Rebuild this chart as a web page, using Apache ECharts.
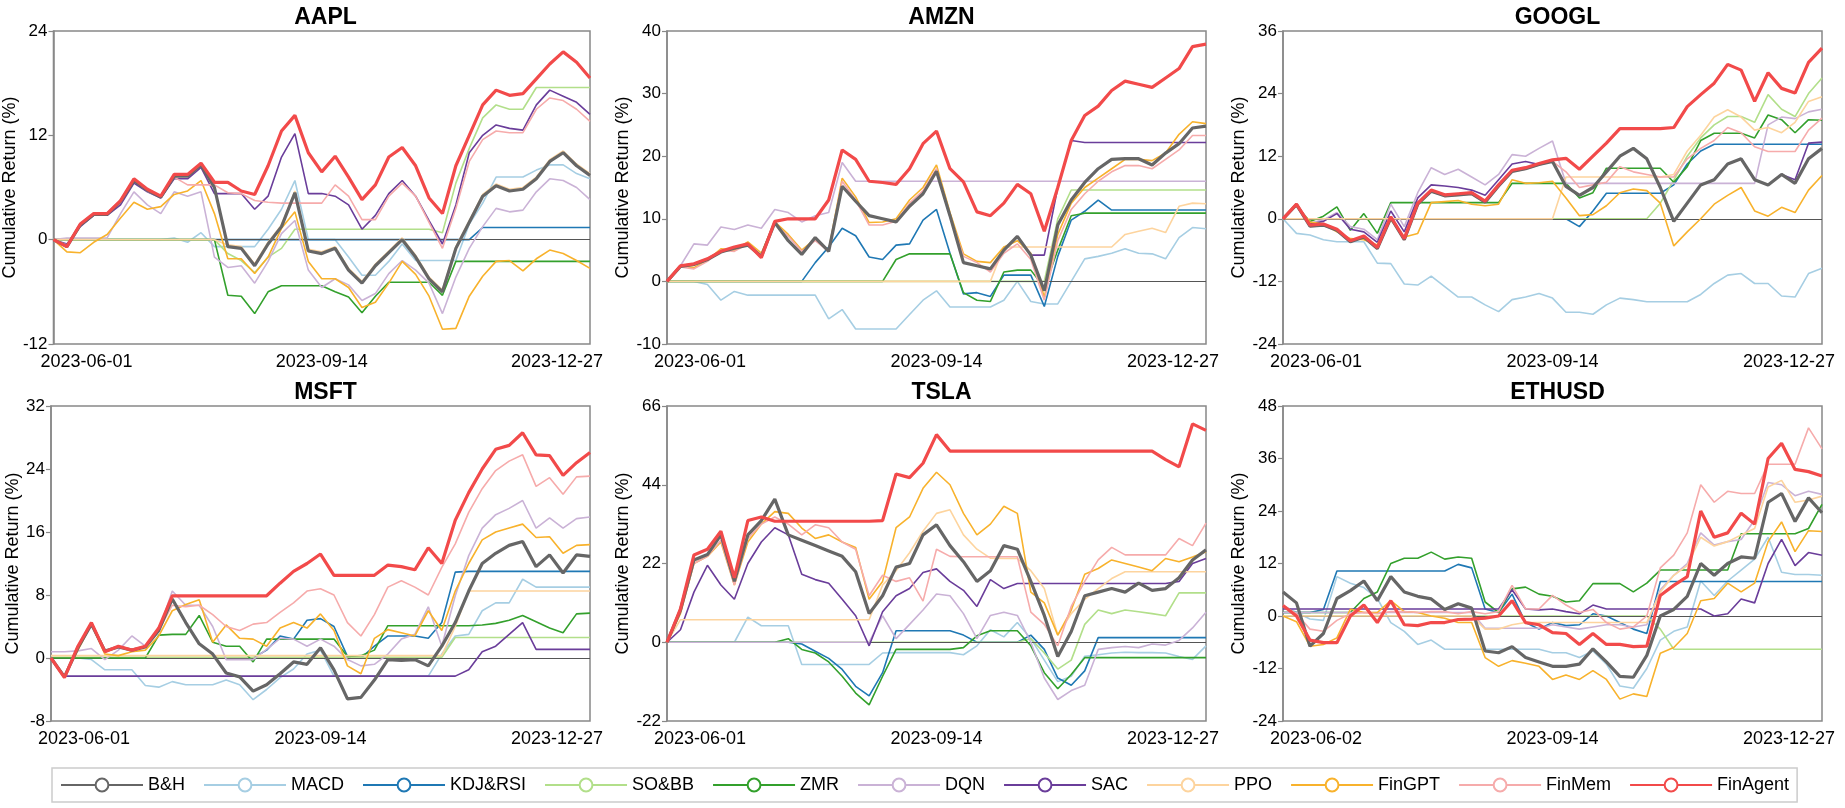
<!DOCTYPE html>
<html><head><meta charset="utf-8">
<script src="https://cdn.jsdelivr.net/npm/echarts@6/dist/echarts.min.js"></script>
<style>html,body{margin:0;padding:0;background:#fff}#c{width:1845px;height:808px}</style>
</head><body><div id="c"></div>
<script>
const seriesNames = ['B&H','MACD','KDJ&RSI','SO&BB','ZMR','DQN','SAC','PPO','FinGPT','FinMem','FinAgent'];
const xLabelsStock = ['2023-06-01','2023-09-14','2023-12-27'];
const xLabelsEth = ['2023-06-02','2023-09-14','2023-12-27'];

// ---------- AAPL ----------
const aapl_bh = [0,-0.8,1.7,2.9,2.9,4.4,6.8,5.7,4.9,7.3,7.3,8.6,6.0,-0.8,-1,-3.0,-0.5,1.5,5.4,-1.3,-1.6,-1,-3.5,-5,-3,-1.5,0,-2,-4.5,-6,-1,2,5,6.2,5.6,5.8,7,9,10,8.5,7.4];
const aapl_macd = [0,0,0,0,0,0,0,0,0,0.2,-0.3,0.8,-0.8,-0.8,-0.8,-0.8,1.2,3.5,6.8,0,0,0,-2,-4.1,-4.1,-2.5,-0.5,-2.4,-2.4,-2.4,-2.4,1.8,4.2,7.2,7.2,7.2,8,8.6,8.6,7.6,7];
const aapl_kdj = [0,0,0,0,0,0,0,0,0,0,0,0,0,0,0,0,0,0,0,0,0,0,0,0,0,0,0,0,0,0,0,0,1.4,1.4,1.4,1.4,1.4,1.4,1.4,1.4,1.4];
const aapl_sobb = [0,0,0,0,0,0,0,0,0,0,0,0,0,-1.6,-2.4,-3.8,-2,-1,1.2,1.2,1.2,1.2,1.2,1.2,1.2,1.2,1.2,1.2,1.2,0.8,6.5,10.5,14,15.5,15,15,17.5,17.5,17.5,17.5,17.5];
const aapl_zmr = [0,0,0,0,0,0,0,0,0,0,0,0,0,-6.4,-6.5,-8.5,-6,-5.3,-5.3,-5.3,-5.3,-6,-6.6,-8.4,-6.5,-4.9,-4.9,-4.9,-4.9,-6.4,-2.5,-2.5,-2.5,-2.5,-2.5,-2.5,-2.5,-2.5,-2.5,-2.5,-2.5];
const aapl_dqn = [0,0.2,0.2,0.2,0.2,3,5.5,4,3,5.5,5,5.5,-2,-3.2,-3,-5,-2.5,0.7,2.2,-3.5,-5.5,-4.5,-5.2,-7,-6.2,-3.9,-2.4,-3.5,-5,-8.5,-4.3,-1,1.5,3.6,3.2,3.4,5.5,7,6.8,6,4.6];
const aapl_sac = [0,-0.5,1.5,2.8,2.8,4,6.5,5.5,4.8,7,7,8.3,5.3,5.3,5.3,3.5,5,9.5,12.2,5.3,5.3,5,4,1.2,2.8,5.3,6.8,5,2.2,-0.5,4,10,12,13.2,12.8,12.6,15.5,17.2,16.5,15.8,14.4];
const aapl_ppo = [0,0,0,0,0,0,0,0,0,0,0,0,0,-0.6,-0.8,-2.8,-0.3,1.7,5.6,-1.1,-1.4,-0.8,-3.3,-4.8,-2.8,-1.3,0.2,-1.8,-4.3,-5.8,-0.8,2.2,5.2,6.4,5.8,6,7.2,9.2,10.2,8.7,7.6];
const aapl_fingpt = [0,-1.4,-1.5,-0.3,0.6,2.5,4.3,3.5,3.8,5.2,5.6,6.8,3,-2.2,-2.2,-3.9,-2,1.3,3.2,-2.5,-4.5,-4.5,-5.5,-7.8,-7.2,-5,-2.5,-4,-6.5,-10.3,-10.2,-6.5,-4.2,-2.5,-2.4,-3.6,-2.2,-1.2,-1.6,-2.4,-3.3];
const aapl_finmem = [0,-0.6,1.6,2.9,3,4.3,6.8,5.6,4.9,7.2,6.3,6.3,6.3,5.4,5.3,4.5,4.3,4.2,4.2,4.2,4.2,6.3,5,2.3,2.3,5,6.5,5,2,-1,3.6,9,11.5,12.5,12.3,12.3,15,16.3,16,15,13.6];
const aapl_finagent = [0,-0.8,1.8,3,3,4.5,7,5.8,5,7.5,7.5,8.8,6.6,6.6,5.6,5.2,8.5,12.5,14.3,10,7.8,9.6,7.2,4.6,6.3,9.5,10.6,8.5,4.8,3,8.5,12,15.5,17.2,16.6,16.8,18.5,20.2,21.6,20.4,18.6];

// ---------- AMZN ----------
const amzn_bh = [0,2.4,2.7,3.5,4.7,5.3,5.8,4,9.4,6.5,4.3,7,4.8,15.2,12.8,10.5,10,9.5,12,14,17.6,10.5,3,2.5,2,5,7.2,4.2,-1.5,9,13,15.8,18,19.5,19.6,19.6,18.6,20.5,22,24.5,24.8];
const amzn_macd = [0,0,0,-0.5,-3,-1.6,-2.2,-2.2,-2.2,-2.2,-2.2,-2.2,-6,-4.5,-7.6,-7.6,-7.6,-7.6,-5.3,-3,-1.5,-4.1,-4.1,-4.1,-4.1,-3,0,-3.2,-3.6,-3.6,0,3.6,4,4.5,5.2,4.5,4.4,3.6,7,8.6,8.4];
const amzn_kdj = [0,0,0,0,0,0,0,0,0,0,0,3,5.5,8.5,7.3,3.9,3.5,5.8,6,9.8,11.5,4.5,-2,-1.8,-2.4,1,1,1,-4,4,9.8,11.2,13,11.4,11.4,11.4,11.4,11.4,11.4,11.4,11.4];
const amzn_sobb = [0,0,0,0,0,0,0,0,0,0,0,0,0,0,0,0,0,0,0,0,0,0,0,0,0,0,0,0,0,10,14.6,14.6,14.6,14.6,14.6,14.6,14.6,14.6,14.6,14.6,14.6];
const amzn_zmr = [0,0,0,0,0,0,0,0,0,0,0,0,0,0,0,0,0,3.5,4.4,4.4,4.4,4.4,-1.8,-3,-3.2,1.5,1.8,1.8,-1,5,10.5,10.9,10.9,10.9,10.9,10.9,10.9,10.9,10.9,10.9,10.9];
const amzn_dqn = [0,2.5,6,5.8,8.7,8.3,9,8.5,11.5,11,9.5,10.5,11,19,16,16,16,16,16,16,16,16,16,16,16,16,16,16,16,16,16,16,16,16,16,16,16,16,16,16,16];
const amzn_sac = [0,2.4,2.7,3.5,4.7,5.3,5.8,4,9.4,6.5,4.3,7,4.8,15.2,12.8,10.5,10,9.5,12,14,17.6,10.5,3,2.5,2,5,7.2,4.2,4.2,15,22.5,22.2,22.2,22.2,22.2,22.2,22.2,22.2,22.2,22.2,22.2];
const amzn_ppo = [0,0,0,0,0,0,0,0,0,0,0,0,0,0,0,0,0,0,0,0,0,0,0,0,0,5.5,5.5,5.5,5.5,5.5,5.5,5.5,5.5,5.5,7.5,8,8.5,7.8,12,12.5,12.4];
const amzn_fingpt = [0,2.5,2.2,3.4,5.2,5,6.3,4.5,9.5,7.5,5,6.8,5,16.5,13.5,9.4,9.5,10,13,15,18.6,11,4.4,3.2,3,5.5,6.5,4.5,-2.5,7.5,12.5,15,16.5,18,19.5,19.5,19.3,20.5,23.5,25.5,25.2];
const amzn_finmem = [0,2.3,2,3.2,5,4.8,6,4.2,9.2,7.2,4.8,6.5,4.8,16,13,9,9,9.6,12.5,14.5,18,10.5,4,3,1.5,4.5,6,3.5,-3,6.5,11.5,14,16,17.5,18.5,18.5,18,19.5,21,23.3,23.3];
const amzn_finagent = [0,2.5,2.8,3.6,4.8,5.5,6,3.8,9.6,10,10,10,13,21,19.5,16,15.8,15.5,18,22,24,18,15.9,11.1,10.5,12.5,15.5,14,8,15,22.5,26.5,28,30.5,32,31.5,31,32.5,34,37.5,37.9];

// ---------- GOOGL ----------
const googl_bh = [0,2.7,-1.4,-1.2,-2.2,-4.4,-3.5,-5.7,0.2,-4,2.8,5.3,4.4,4.6,4.8,3.2,6.3,9.1,9.6,10.4,11,6.2,4.5,6,9,12,13.5,11.5,6,-0.5,3,6.5,7.5,10.5,11.5,7.5,6.5,8.5,6.8,11.5,13.5];
const googl_macd = [0,-2.8,-3.1,-4,-4.4,-4.4,-4.4,-8.5,-8.6,-12.5,-12.7,-11,-13,-15,-15,-16.5,-17.8,-15.5,-15,-14.3,-15.2,-17.9,-17.9,-18.3,-16.5,-15.2,-15.5,-15.9,-15.9,-15.9,-15.9,-14.5,-12.4,-10.8,-10.5,-12.4,-12.4,-14.8,-15,-10.5,-9.5];
const googl_kdj = [0,0,0,0,0,0,0,0,0,0,0,0,0,0,0,0,0,0,0,0,0,0,-1.5,1.5,4.9,4.9,4.9,4.9,4.9,6.5,10.5,13,14.3,14.3,14.3,14.3,14.3,14.3,14.3,14.3,14.3];
const googl_sobb = [0,0,0,0,0,0,0,0,0,0,0,0,0,0,0,0,0,0,0,0,0,0,0,0,0,0,0,0,3,7.4,12,15.5,18,19.6,19.6,18.5,23.8,21,19.6,24,27];
const googl_zmr = [0,2.5,-0.5,0.5,2.3,-2.2,1,-2.8,3.1,3.1,3.1,3.1,3.1,3.1,3.1,3.1,3.1,6.8,6.8,6.8,6.8,6.8,4,5,9.7,9.7,9.7,9.7,9.7,7,10,15,16.4,16.4,16.4,15.5,19.9,19,16.5,19,18.9];
const googl_dqn = [0,2.8,-0.8,-0.2,1.2,-1.5,-2,-4,2.8,-1.5,5,9.8,8.5,9.5,8,6.5,8.5,12.3,12,13.5,14.9,6.8,6.8,6.8,6.8,6.8,6.8,6.8,6.8,6.8,6.8,6.8,6.8,6.8,6.8,6.8,18,19.5,19.2,20.5,21];
const googl_sac = [0,2.8,-1,-0.5,1,-2,-2.5,-4.5,1.5,-2.5,4,6.5,6.3,6,5.5,4.5,7.5,10.5,11,10.4,11,6.2,4.5,6,9,12,13.5,11.5,6,-0.5,3,6.5,7.5,10.5,11.5,7.5,6.5,8.5,7.5,14.5,14.7];
const googl_ppo = [0,0,0,0,0,0,0,0,0,0,0,0,0,0,0,0,0,0,0,0,0,8,8,8,8,8,8,8,8,8.5,13,16,19.5,20.9,19.5,17,17.5,16.5,18.5,22.5,23.4];
const googl_fingpt = [0,2.5,-0.6,-1,-2.5,-3.8,-4,-5,-0.2,-3.5,-2.8,3.1,3.3,3.5,2.8,2.5,2.8,7.5,6.8,6.9,7.2,4,0.6,0.8,2.5,5,5.7,5.4,3,-5.2,-2.5,0,2.8,4.5,6,1.5,0.5,2.2,1.2,5.5,8.3];
const googl_finmem = [0,2.5,-1.5,-1.3,-2.3,-4.5,-3.6,-5.8,0.1,-4.1,2.7,5.2,4.3,4.5,4.7,3.1,6.2,9,9.5,10.3,11,9,6,6.5,7,10,9,8.5,8,8,11.5,13.5,15,17.5,16.5,13.8,12.9,12.9,12.9,17,19.3];
const googl_finagent = [0,2.8,-1.2,-1,-2,-4.2,-3.3,-5.5,0.4,-3.8,3,5.5,4.6,4.8,5,3.4,6.5,9.3,9.8,10.6,11.3,11.6,9.5,12,14.5,17.3,17.3,17.3,17.3,17.5,21.5,23.8,26,29.6,28.5,22.5,28,25,24.1,30,32.7];

// ---------- MSFT ----------
const msft_bh = [0,-2.4,1.3,4.3,0.9,1.4,1,1.4,3.5,7.5,4.5,1.8,0.5,-1.9,-2.4,-4.2,-3.4,-2,-0.5,-0.8,1.3,-1.5,-5.2,-5,-2.8,-0.2,-0.3,-0.2,-1,1.5,4.5,8.5,12,13.3,14.3,14.8,11.6,13.1,10.8,13.1,12.9];
const msft_macd = [0,0,0,-0.2,-1.5,-1.5,-1.5,-3.5,-3.7,-3,-3.4,-3.4,-3.4,-2.8,-3.4,-5.3,-4,-2.5,-1.4,0.5,1,-2.3,-2.3,-2.3,-2.3,-2.3,-2.3,-2.3,-2.3,0.5,2.8,3,6,7,7,10,9,9,9,9,9];
const msft_kdj = [0,0,0,0,0,0,0,0,0,0,0,0,0,0,0,0,1,2.8,2.4,4.8,5,4,0.2,0,1.5,2.8,2.8,2.8,2.5,4.5,10.9,11,11,11,11,11,11,11,11,11,11];
const msft_sobb = [0.1,0.1,0.1,0.1,0.1,0.1,0.1,0.1,0.1,0.1,0.1,0.1,0.1,0.1,0.1,0.1,0.1,0.1,0.1,0.1,0.1,0.1,0.1,0.1,0.1,0.1,0.1,0.1,0.1,0.1,2.6,2.6,2.6,2.6,2.6,2.6,2.6,2.6,2.6,2.6,2.6];
const msft_zmr = [0,0,0,0,0,0,0,0,2.9,3,3,5.4,2,1.5,1.5,-0.5,2.4,2.4,2.4,2.4,2.4,2.4,0.2,0.3,1,4.1,4.1,4.1,4.1,4.1,4.1,4.1,4.2,4.4,4.8,5.4,4.6,3.8,3.2,5.6,5.7];
const msft_dqn = [0.8,0.8,0.9,1.2,-0.2,1,2.8,1.5,3.5,8.5,6.7,6.7,4,-0.2,-0.2,-0.2,1.1,2.5,2.4,1.5,2.4,1.5,-0.2,-1,-0.8,0.5,2.4,3,6.5,1.5,7.9,13,16.5,18.2,19,20,16.5,17.8,16.5,17.7,17.9];
const msft_sac = [0,-2.3,-2.3,-2.3,-2.3,-2.3,-2.3,-2.3,-2.3,-2.3,-2.3,-2.3,-2.3,-2.3,-2.3,-2.3,-2.3,-2.3,-2.3,-2.3,-2.3,-2.3,-2.3,-2.3,-2.3,-2.3,-2.3,-2.3,-2.3,-2.3,-2.3,-1.5,0.8,1.5,3,4.5,1.1,1.1,1.1,1.1,1.1];
const msft_ppo = [0.3,0.3,0.3,0.3,0.3,0.3,0.3,0.3,0.3,0.3,0.3,0.3,0.3,0.3,0.3,0.3,0.3,0.3,0.3,0.3,0.3,0.3,0.3,0.3,0.3,0.3,0.3,0.3,0.3,0.3,4,8.5,8.5,8.5,8.5,8.5,8.5,8.5,8.5,8.5,8.5];
const msft_fingpt = [0,-2.3,1,4.3,0.5,0.3,0.8,1,2.8,6,6.8,7.4,2,4.2,2.5,2.4,1.5,3.8,4.5,3.8,5.6,3.5,-1,-2,2.5,3.6,3.2,2.8,6,3.5,8.5,12,15,16,16.5,17,15.3,15.4,13.3,14.3,14.4];
const msft_finmem = [0,-2.5,1.4,4.2,0.8,1.4,1,1.4,3.5,6.7,6.5,6.7,5.5,4,3.5,4.3,4.5,5.8,7,8.5,8.8,8,4.5,2.8,5.5,9,9.8,9,8,11.5,14.5,18.5,21.5,23.8,25,25.8,21.8,22.9,20.8,23,23.1];
const msft_finagent = [0,-2.5,1.5,4.5,0.8,1.5,1,1.5,3.8,7.9,7.9,7.9,7.9,7.9,7.9,7.9,7.9,9.5,11,12,13.2,10.5,10.5,10.5,10.5,11.8,11.6,11.2,14,12,17.5,21,24,26.5,27,28.6,25.8,25.7,23.2,24.8,26.1];

// ---------- TSLA ----------
const tsla_bh = [0,9,23,24.5,30,17,30,34,40,30,28.5,27,25.5,24,19.7,8,13,21,22,30,32.8,27,22.5,17,20,27,26,17,7.5,-4,3,13,14,15,14,16.5,14.5,15,18,23,25.8];
const tsla_macd = [0,0,0,0,0,0,7,4.6,4.6,4.6,-6.2,-6.2,-6.2,-6.2,-6.2,-6.2,-3,-2.9,-2.9,-2.9,-2.9,-2.9,-3.5,-1,3.5,1.5,5.5,1,-5,-11,-9.5,-3.9,-3.5,-3,-2.8,-2.9,-2.9,-3,-4,-4.8,-1];
const tsla_kdj = [0,0,0,0,0,0,0,0,0,0,-0.5,-2.5,-4.5,-7.6,-12.3,-15,-8.5,3.2,3.2,3.2,3.2,3.2,2,0,0,0,0,2,-2,-10,-12,-8,1.3,1.3,1.3,1.3,1.3,1.3,1.3,1.3,1.3];
const tsla_sobb = [0,0,0,0,0,0,0,0,0,0,0,0,0,0,0,0,0,0,0,0,0,0,0,0,0,0,0,1,-3,-7.5,-5,5,9,8,9,8.5,8,7.4,13.8,13.8,13.8];
const tsla_zmr = [0,0,0,0,0,0,0,0,0,1,-2,-3,-5.5,-9.5,-14.2,-17.5,-9.5,-2,-2,-2,-2,-2,-1.5,1.8,3.2,3.2,3.2,-1,-8.5,-13,-9,-4.3,-4.3,-4.3,-4.3,-4.3,-4.3,-4.3,-4.3,-4.3,-4.3];
const tsla_dqn = [0,0,0,0,0,0,0,0,0,0,0,0,0,0,0,0,7.4,1,5,9,13.5,13,8,1,7.5,8.4,7.5,0,-10,-16,-13.5,-12,-2,-1.5,-1.2,-1.5,-0.5,-0.8,0.5,4,8.4];
const tsla_sac = [0,3.5,14,21.5,16,12,22,28,32,30,19,17.5,16.5,12,7.4,-1,8.5,13,15,19.5,20.5,17,14.5,10,17.5,15,16.4,16.4,16.4,16.4,16.4,16.4,16.4,16.4,16.4,16.4,16.4,16.4,17,22,23.4];
const tsla_ppo = [0,6.3,6.3,6.3,6.3,6.3,6.3,6.3,6.3,6.3,6.3,6.3,6.3,6.3,6.3,6.3,16,20,25,31,36,37,30,26,23.5,23.4,23.4,20,15,2,8,12,15,17.8,19.7,19.7,19.7,19.7,19.7,19.7,19.7];
const tsla_fingpt = [0,8,22,24,28,16,28,33,36.5,36,31.9,29,30,28,26.5,12,17,32,35,43,47.5,44,36,30,33,38,36,14,11,2,9,19,20.6,23,22,21,20,23.4,22.5,23.8,25.3];
const tsla_finmem = [0,8.5,22,24,28.5,16,29,33,35,33,30,32.8,32,28,26,13,18.7,17,18,11.5,26,24,23.9,23.9,23.9,23.9,23.9,8.4,5,-1,10,17,23,26.5,24.4,24.4,24.4,24.4,29,27,33.3];
const tsla_finagent = [0,9.3,24.4,26,31,18,34,35,33.8,33.8,33.8,33.8,33.8,33.8,33.8,33.8,34,47,46,50,58,53.4,53.4,53.4,53.4,53.4,53.4,53.4,53.4,53.4,53.4,53.4,53.4,53.4,53.4,53.4,53.4,51,49,61,59.2];

// ---------- ETHUSD ----------
const eth_bh = [5.5,3,-6.9,-4,4,5.8,8,3.5,9,5.5,4.5,3.9,1.5,2.8,1.8,-8,-8.4,-7,-9.5,-10.5,-11.5,-11.5,-11,-7.5,-10.5,-13.8,-14,-9,0,1.5,4.5,12,9.3,12,13.5,13.2,26,28,21.6,27,23.6];
const eth_macd = [2.4,0.8,-0.7,-1,9,7.5,6.5,4,-1.5,-3.5,-6.5,-5.5,-7.6,-7.6,-7.6,-7.6,-7.6,-7.6,-7.6,-7.6,-8.4,-8.4,-9.5,-8,-11,-16,-16.5,-12,-5.5,-3.5,-2.5,8,4.7,8,10.5,13,18,10,9.5,9.5,9.3];
const eth_kdj = [0.8,0.8,0.8,1.5,10.3,10.3,10.3,10.3,10.3,10.3,10.3,10.3,10.3,11.8,11,1.6,0.8,5,-1.5,-3,-1.5,-2.2,-2,0.5,0,-1.5,-3,-4,7.9,7.9,7.9,7.9,7.9,7.9,7.9,7.9,7.9,7.9,7.9,7.9,7.9];
const eth_sobb = [0,0,0,0,0,0,0,0,0,0,0,0,0,0,0,0,0,0,0,0,0,0,0,0,0,0,0,0,-3,-7.6,-7.6,-7.6,-7.6,-7.6,-7.6,-7.6,-7.6,-7.6,-7.6,-7.6,-7.6];
const eth_zmr = [0.8,0.8,0.8,0.8,0.8,0.8,4,5.5,12,13.2,13.2,14.6,13,13.5,13.2,3.2,0.8,6.2,6.6,5,4.5,3.2,3.5,7.4,7.4,7.4,5.5,7.5,10.5,10.5,10.5,10.5,10.5,10.5,18.8,18.8,18.8,18.8,18.8,20,25.5];
const eth_dqn = [0.8,0.8,0.8,0.8,0.8,0.8,0.8,0.8,0.8,0.8,0.8,0.8,0.8,0.8,0.8,-2.8,-2.8,-2.8,-2.8,-2.8,-2,-2.5,-3,-2.5,-2,-2,-2.5,-2,6,9.3,12,19,16.2,17,17.5,22,30.5,30,27.5,28.5,27.8];
const eth_sac = [1.6,1.6,1.6,1.6,1.6,1.6,1.6,1.6,1.6,1.6,1.6,1.6,1.6,1.6,1.6,1.6,1.6,6,1.6,1.4,1.6,1,0.5,2.5,1.6,1.6,1.6,1.6,1.6,1.6,1.6,1.6,0,0.5,3.9,3,12,17.5,11.5,14.5,13.9];
const eth_ppo = [0,0,0,0,0,0,0,0,0,0,0,0,0,0,0,-3,-3,-2,-1.5,-1.5,-1.5,-1.5,-1.5,-1.5,-1.5,-1.5,-1.5,-1.5,5.5,9.3,11.5,18,16,17,18.5,20,29.5,31,26,26.5,27.4];
const eth_fingpt = [0,-1.3,-6.9,-6.5,-5,1.6,0.8,0.8,3.5,1,0.8,0,-0.5,-1.5,-1.5,-9.5,-11.5,-10.2,-10.8,-11.5,-14.5,-13.5,-14.5,-12.5,-14.5,-19,-17.8,-18.4,-8.5,-7.2,-4,3.5,4,7.5,5.5,7.5,17,21.5,14.7,19.5,19.3];
const eth_finmem = [2.4,0.5,-3,-3.5,-1,0.5,0.8,0.5,1,1,0.8,1,1,0.5,1,0.5,1,7,1.6,1.6,4.7,2.5,0.8,1.5,-1.5,-3,-2.5,0,11,13.9,19,30,26,28.5,28,28,34.7,34.7,34.7,43,38.2];
const eth_finagent = [2.4,0,-5.5,-6.1,-6.1,0,2.5,-1.5,3.5,-2,-2.2,-1.5,-1.5,-0.8,-0.7,-0.5,0,3.5,-1.5,-2,-3.8,-4,-6.5,-4,-6.5,-6.5,-7,-6.9,4.7,7,9,24,18,19,23.5,21,36,39.5,33.5,33,32];

// ---------- assembly ----------
const panels = [
  {title:'AAPL', labels:xLabelsStock, y:[-12,24,12], d:[aapl_bh,aapl_macd,aapl_kdj,aapl_sobb,aapl_zmr,aapl_dqn,aapl_sac,aapl_ppo,aapl_fingpt,aapl_finmem,aapl_finagent]},
  {title:'AMZN', labels:xLabelsStock, y:[-10,40,10], d:[amzn_bh,amzn_macd,amzn_kdj,amzn_sobb,amzn_zmr,amzn_dqn,amzn_sac,amzn_ppo,amzn_fingpt,amzn_finmem,amzn_finagent]},
  {title:'GOOGL', labels:xLabelsStock, y:[-24,36,12], d:[googl_bh,googl_macd,googl_kdj,googl_sobb,googl_zmr,googl_dqn,googl_sac,googl_ppo,googl_fingpt,googl_finmem,googl_finagent]},
  {title:'MSFT', labels:xLabelsStock, y:[-8,32,8], d:[msft_bh,msft_macd,msft_kdj,msft_sobb,msft_zmr,msft_dqn,msft_sac,msft_ppo,msft_fingpt,msft_finmem,msft_finagent]},
  {title:'TSLA', labels:xLabelsStock, y:[-22,66,22], d:[tsla_bh,tsla_macd,tsla_kdj,tsla_sobb,tsla_zmr,tsla_dqn,tsla_sac,tsla_ppo,tsla_fingpt,tsla_finmem,tsla_finagent]},
  {title:'ETHUSD', labels:xLabelsEth, y:[-24,48,12], d:[eth_bh,eth_macd,eth_kdj,eth_sobb,eth_zmr,eth_dqn,eth_sac,eth_ppo,eth_fingpt,eth_finmem,eth_finagent]}
];
const styles = {
  'B&H':{c:'#666666',w:3.2},
  'MACD':{c:'#a6cee3',w:1.6},
  'KDJ&RSI':{c:'#1f78b4',w:1.6},
  'SO&BB':{c:'#b2df8a',w:1.6},
  'ZMR':{c:'#33a02c',w:1.6},
  'DQN':{c:'#cab2d6',w:1.6},
  'SAC':{c:'#6a3d9a',w:1.6},
  'PPO':{c:'#fdd49e',w:1.6},
  'FinGPT':{c:'#f8b22c',w:1.6},
  'FinMem':{c:'#f6abab',w:1.6},
  'FinAgent':{c:'#f24a4a',w:3.2}
};
const drawOrder = [1,2,3,4,5,6,7,8,9,0,10];
const colLeft = [51,667,1283], rowTop = [31,406], gw = 539, gh = [313,315];
const FONT = 'Liberation Sans, Arial, Helvetica, sans-serif';

const grids=[], xAxes=[], yAxes=[], titles=[], series=[];
panels.forEach((p,k)=>{
  const col=k%3, row=Math.floor(k/3);
  grids.push({left:colLeft[col], top:rowTop[row], width:gw, height:gh[row], show:true, borderColor:'#888', borderWidth:1.5, containLabel:false});
  titles.push({text:p.title, left:colLeft[col]+gw/2, top:rowTop[row]-30, textAlign:'center',
    textStyle:{fontSize:23, fontWeight:'bold', color:'#000', fontFamily:FONT}});
  xAxes.push({type:'value', gridIndex:k, min:0, max:40, interval:20,
    axisLine:{show:false}, axisTick:{show:false}, splitLine:{show:false},
    axisLabel:{fontSize:18, color:'#000', margin:9, fontFamily:FONT,
      formatter:(v)=>{
        const idx=Math.round(v/20), t=p.labels[idx];
        if(idx===0) return '{l|'+t+'}';
        if(idx===2) return '{r|'+t+'}';
        return '{m|'+t+'}';
      },
      rich:{
        l:{fontSize:18, color:'#000', fontFamily:FONT, padding:[0,0,0,66]},
        r:{fontSize:18, color:'#000', fontFamily:FONT, padding:[0,66,0,0]},
        m:{fontSize:18, color:'#000', fontFamily:FONT}
      }}});
  yAxes.push({type:'value', gridIndex:k, min:p.y[0], max:p.y[1], interval:p.y[2],
    name:'Cumulative Return (%)', nameLocation:'middle', nameGap:24,
    nameTextStyle:{fontSize:18, color:'#000', fontFamily:FONT},
    axisLine:{show:true, lineStyle:{color:'#888', width:1.5}},
    axisTick:{show:true, length:5, lineStyle:{color:'#888', width:1.2}},
    axisLabel:{fontSize:17, color:'#000', margin:6, fontFamily:FONT},
    splitLine:{show:false}});
  drawOrder.forEach((si,j)=>{
    const name=seriesNames[si], st=styles[name];
    const s={type:'line', name:name, xAxisIndex:k, yAxisIndex:k,
      data:p.d[si].map((v,i)=>[i,v]),
      symbol:'emptyCircle', symbolSize:8, showSymbol:false,
      lineStyle:{color:st.c, width:st.w}, itemStyle:{color:st.c},
      emphasis:{disabled:true}, silent:true, animation:false, z:2+j};
    if(j===0){
      s.markLine={silent:true, symbol:['none','none'], label:{show:false}, animation:false,
        lineStyle:{color:'#555', width:1.2, type:'solid'}, data:[{yAxis:0}]};
    }
    series.push(s);
  });
});

const chart = echarts.init(document.getElementById('c'), null, {renderer:'canvas'});
chart.setOption({
  animation:false,
  textStyle:{fontFamily:FONT},
  title:titles, grid:grids, xAxis:xAxes, yAxis:yAxes, series:series,
  legend:{data:seriesNames, top:768, left:52, itemWidth:82, itemHeight:16, itemGap:18,
    padding:[8,8], borderColor:'#ccc', borderWidth:1.5, selectedMode:false,
    textStyle:{fontSize:18, color:'#000', fontFamily:FONT}}
});
</script></body></html>
